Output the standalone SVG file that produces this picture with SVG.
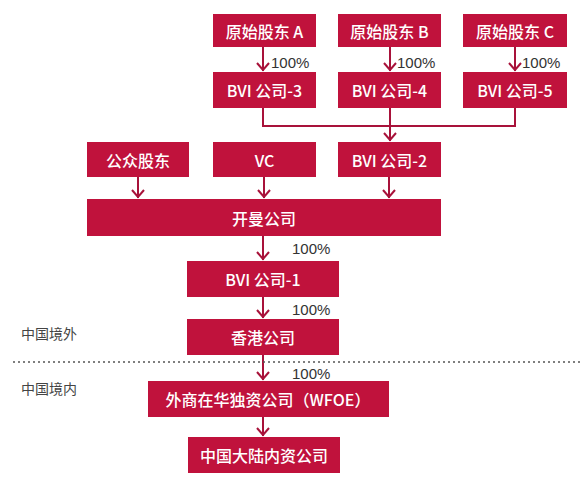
<svg xmlns="http://www.w3.org/2000/svg" width="580" height="497" viewBox="0 0 580 497">
<defs>
<style>
.box{fill:#C0123C;}
.bt{fill:#fff;font-family:"Noto Sans CJK SC","Liberation Sans",sans-serif;font-size:16px;font-weight:500;text-anchor:middle;dominant-baseline:central;}
.pct{fill:#333;font-family:"Liberation Sans","DejaVu Sans",sans-serif;font-size:15px;dominant-baseline:central;}
.side{fill:#444;font-family:"Noto Sans CJK SC",sans-serif;font-size:14px;dominant-baseline:central;}
.ln{stroke:#A8123A;stroke-width:2;fill:none;}
.hd{stroke:#A8123A;stroke-width:2;fill:none;stroke-linejoin:miter;}
</style>
</defs>
<rect width="580" height="497" fill="#fff"/>
<g id="connectors">
<path class="ln" d="M263 47V71M390 47V71M515 47V71"/>
<path class="ln" d="M263 108V126H515V108M390 108V141"/>
<path class="ln" d="M138 177V198M264 177V198M389 177V198"/>
<path class="ln" d="M263 236V260M263 297V318M263 355V380M263 417V436"/>
<g class="hd">
<path d="M257 63l6 7 6-7"/>
<path d="M384 63l6 7 6-7"/>
<path d="M509 63l6 7 6-7"/>
<path d="M384 133l6 7 6-7"/>
<path d="M132 190l6 7 6-7"/>
<path d="M258 190l6 7 6-7"/>
<path d="M383 190l6 7 6-7"/>
<path d="M257 252l6 7 6-7"/>
<path d="M257 310l6 7 6-7"/>
<path d="M257 372l6 7 6-7"/>
<path d="M257 428l6 7 6-7"/>
</g>
<text class="pct" x="271" y="62">100%</text>
<text class="pct" x="397" y="62">100%</text>
<text class="pct" x="522" y="62">100%</text>
<text class="pct" x="292" y="248">100%</text>
<text class="pct" x="292" y="309">100%</text>
<text class="pct" x="292" y="373">100%</text>
</g>
<line x1="13" y1="362" x2="580" y2="362" stroke="#555" stroke-width="1.5" stroke-dasharray="2 3"/>
<text class="side" x="21" y="333">中国境外</text>
<text class="side" x="21" y="388">中国境内</text>
<g id="holderA"><rect class="box" x="213" y="14" width="103" height="33"/><text class="bt" x="264.5" y="30.5">原始股东 A</text></g>
<g id="holderB"><rect class="box" x="338" y="14" width="103" height="33"/><text class="bt" x="389.5" y="30.5">原始股东 B</text></g>
<g id="holderC"><rect class="box" x="463" y="14" width="104" height="33"/><text class="bt" x="515" y="30.5">原始股东 C</text></g>
<g id="bvi3"><rect class="box" x="213" y="72" width="103" height="36"/><text class="bt" x="264.5" y="90">BVI 公司-3</text></g>
<g id="bvi4"><rect class="box" x="338" y="72" width="103" height="36"/><text class="bt" x="389.5" y="90">BVI 公司-4</text></g>
<g id="bvi5"><rect class="box" x="463" y="72" width="104" height="36"/><text class="bt" x="515" y="90">BVI 公司-5</text></g>
<g id="public"><rect class="box" x="87" y="142" width="102" height="35"/><text class="bt" x="138" y="159.5">公众股东</text></g>
<g id="vc"><rect class="box" x="213" y="142" width="103" height="35"/><text class="bt" x="264.5" y="159.5">VC</text></g>
<g id="bvi2"><rect class="box" x="338" y="142" width="103" height="35"/><text class="bt" x="389.5" y="159.5">BVI 公司-2</text></g>
<g id="cayman"><rect class="box" x="87" y="199" width="354" height="37"/><text class="bt" x="264" y="217.5">开曼公司</text></g>
<g id="bvi1"><rect class="box" x="187" y="261" width="152" height="36"/><text class="bt" x="263" y="279">BVI 公司-1</text></g>
<g id="hk"><rect class="box" x="187" y="319" width="152" height="36"/><text class="bt" x="263" y="337">香港公司</text></g>
<g id="wfoe"><rect class="box" x="148" y="381" width="241" height="36"/><text class="bt" x="268" y="399">外商在华独资公司（WFOE）</text></g>
<g id="domestic"><rect class="box" x="188" y="437" width="152" height="36"/><text class="bt" x="264" y="455">中国大陆内资公司</text></g>
</svg>
